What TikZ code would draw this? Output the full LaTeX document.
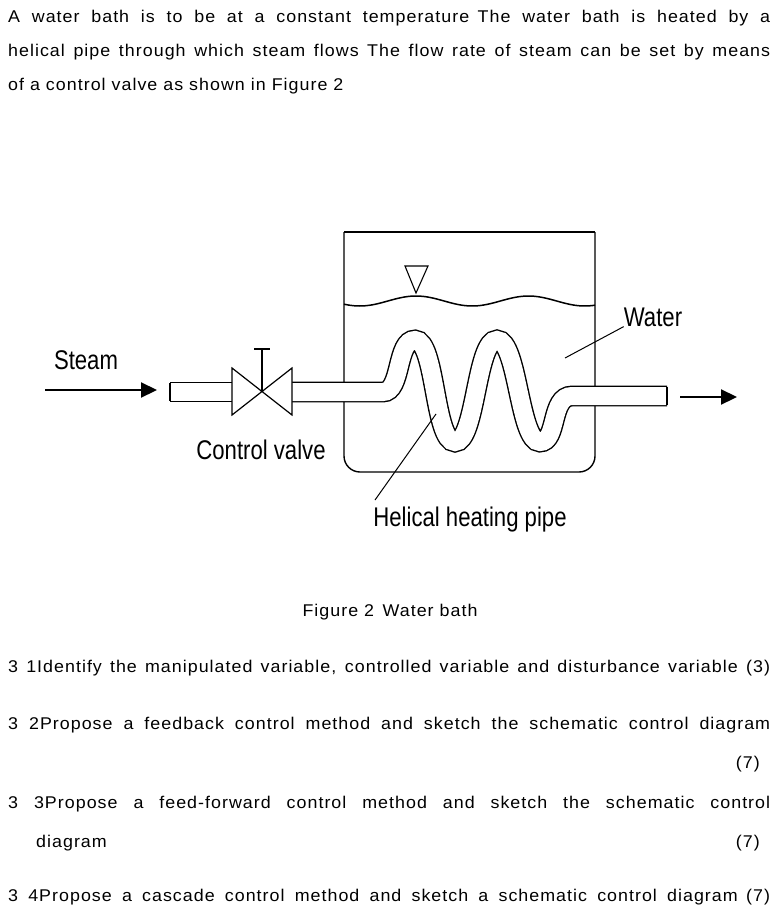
\documentclass[tikz,border=0pt]{standalone}
\usepackage{fontspec}
\setmainfont{Liberation Sans}[LetterSpace=6, FakeStretch=1.05]
\newfontfamily\narrowfont[FakeStretch=0.82]{Liberation Sans}
\usetikzlibrary{arrows.meta}

\newcommand{\fullline}[1]{{\parfillskip=0pt #1\par}}

\tikzset{
  body/.style={anchor=north west, text width=762pt, align=justify, font=\fontsize{17}{34}\selectfont, inner sep=0pt},
  qline/.style={anchor=west, font=\fontsize{17}{20}\selectfont, inner sep=0pt},
  lbl/.style={font=\narrowfont\fontsize{27}{30}\selectfont, inner sep=0pt},
  pipe/.style={double=white, double distance=18pt, line width=1.4pt},
  flow/.style={-{Triangle[length=16pt,width=15pt]}, line width=2.2pt},
  lead/.style={line width=1pt}
}

\begin{document}
\begin{tikzpicture}[x=1pt,y=-1pt]
        \useasboundingbox[fill=white] (0,0) rectangle (778,915);

        % problem text
        \node[body] (intro) at (8,10) {\fullline{A water bath is to be at a constant temperature\enspace The water bath is heated by a}\fullline{helical pipe through which steam flows\enspace The flow rate of steam can be set by means}of a control valve as shown in Figure 2\par};

        % tank and water
        \draw[line width=1.4pt, rounded corners=16] (344,232) -- (344,472) -- (595,472) -- (595,232);
        \draw[line width=1.4pt] (344,232) -- (595,232);
        \draw[line width=1.5pt] plot[domain=344:595, samples=80] (\x, {301-5*cos((\x-416)*3.2)});
        \draw[line width=1.1pt] (405,266) -- (428,266) -- (416,293) -- cycle;

        % pipes
        \coordinate (vl) at (232,392);
        \coordinate (vr) at (292,392);
        \draw[pipe] (170,392) -- (vl);
        \draw[pipe] (vr) -- (383,392) .. controls (402,392) and (396,340) .. (415,340)
          .. controls (436,340) and (434,442) .. (455,442)
          .. controls (476,442) and (476,340) .. (497,340)
          .. controls (518,340) and (519,442) .. (540,442)
          .. controls (558,442) and (550,396) .. (572,396) -- (667,396);
        \draw[line width=1.4pt] (170,383) -- (170,401);
        \draw[line width=1.4pt] (667,387) -- (667,405);

        % control valve
        \draw[line width=1.2pt, fill=white] (232,368) -- (232,415) -- (292,368) -- (292,415) -- cycle;
        \draw[line width=1.2pt] (262,391) -- (262,349);
        \draw[line width=1.2pt] (254,349) -- (270,349);

        % flows
        \coordinate (inA) at (45,390);
        \coordinate (inB) at (157,390);
        \coordinate (outA) at (680,397);
        \coordinate (outB) at (737,397);
        \draw[flow] (inA) -- (inB);
        \draw[flow] (outA) -- (outB);

        % labels
        \node[lbl] (steam) at (86,360) {Steam};
        \node[lbl] (valve) at (261,450) {Control valve};
        \node[lbl] (water) at (653,317) {Water};
        \node[lbl] (helix) at (470,520) {Helical heating pipe};
        \coordinate (wtip) at (565,358);
        \coordinate (htip) at (436,414);
        \draw[lead] (wtip) -- (water.south west);
        \draw[lead] (htip) -- (375,500);

        \node[qline, anchor=center] (cap) at (390,612) {Figure 2\enspace Water bath};

        % questions
        \node[body, anchor=west] (q1) at (8,668) {\fullline{3 1Identify the manipulated variable, controlled variable and disturbance variable\enspace(3)}};
        \node[body, anchor=west] (q2) at (8,725) {\fullline{3 2Propose a feedback control method and sketch the schematic control diagram}};
        \node[qline, anchor=east] (m2) at (760,764) {(7)};
        \node[body, anchor=west] (q3) at (8,804) {\fullline{3 3Propose a feed-forward control method and sketch the schematic control}};
        \node[qline] (q3b) at (36,843) {diagram};
        \node[qline, anchor=east] (m3) at (760,843) {(7)};
        \node[body, anchor=west] (q4) at (8,897) {\fullline{3 4Propose a cascade control method and sketch a schematic control diagram\enspace(7)}};
      \end{tikzpicture}
\end{document}
